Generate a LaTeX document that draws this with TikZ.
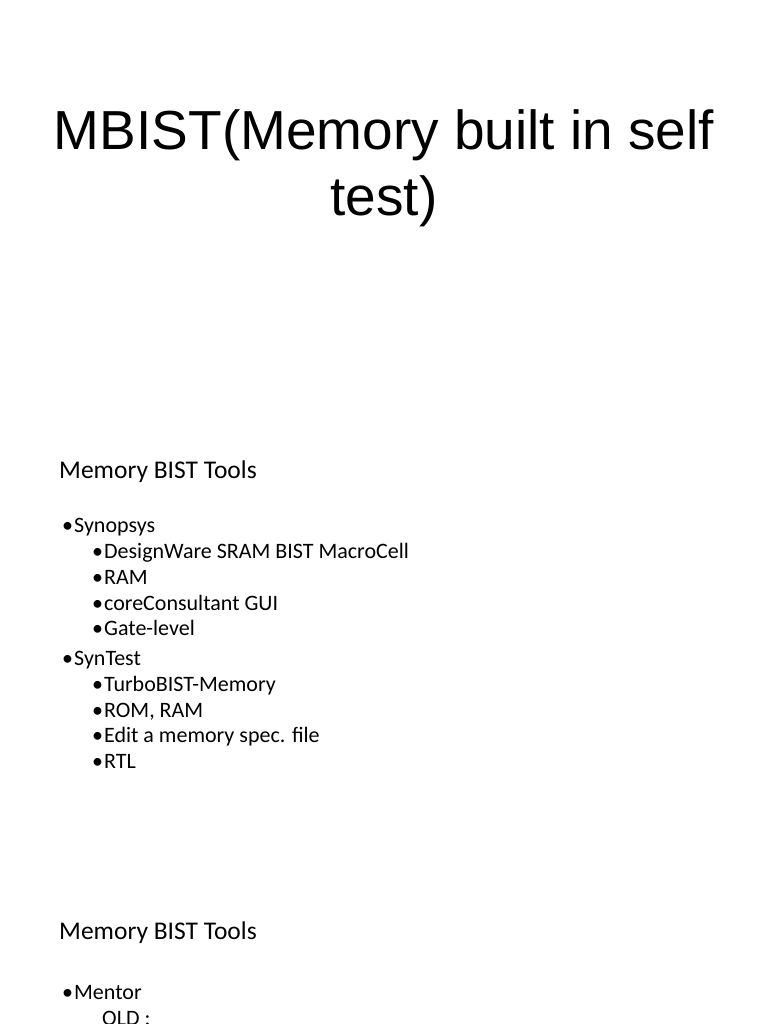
\documentclass[tikz,border=0pt]{standalone}
\usepackage{fontspec}
\setmainfont{Carlito}
\newfontfamily\titlefont{Liberation Sans}
\begin{document}
\begin{tikzpicture}[x=1pt,y=-1pt,
  ttl/.style={font=\titlefont\fontsize{55}{60}\selectfont,anchor=base},
  hd/.style={font=\fontsize{25.5}{29}\selectfont,anchor=base west,inner sep=0},
  itm/.style={font=\fontsize{22}{26}\selectfont,anchor=base west,inner sep=0}]
\useasboundingbox[fill=white] (0,0) rectangle (768,1024);
\node[ttl] (t1) at (384,150) {MBIST(Memory built in self};
\node[ttl] (t2) at (384,216) {test)};
\node[hd] (h1) at (59,478) {Memory BIST Tools};
\node[itm] (a) at (62,532) {\textbullet\kern1pt Synopsys};
\node[itm] (a1) at (92,558) {\textbullet\kern1pt DesignWare SRAM BIST MacroCell};
\node[itm] (a2) at (92,584) {\textbullet\kern1pt RAM};
\node[itm] (a3) at (92,610) {\textbullet\kern1pt coreConsultant GUI};
\node[itm] (a4) at (92,635) {\textbullet\kern1pt Gate-level};
\node[itm] (b) at (62,665) {\textbullet\kern1pt SynTest};
\node[itm] (b1) at (92,691) {\textbullet\kern1pt TurboBIST-Memory};
\node[itm] (b2) at (92,717) {\textbullet\kern1pt ROM, RAM};
\node[itm] (b3) at (92,742) {\textbullet\kern1pt Edit a memory spec. file};
\node[itm] (b4) at (92,768) {\textbullet\kern1pt RTL};
\node[hd] (h2) at (59,939) {Memory BIST Tools};
\node[itm] (c) at (62,999) {\textbullet\kern1pt Mentor};
\node[itm] (c1) at (102,1025) {OLD :};
\end{tikzpicture}
\end{document}
